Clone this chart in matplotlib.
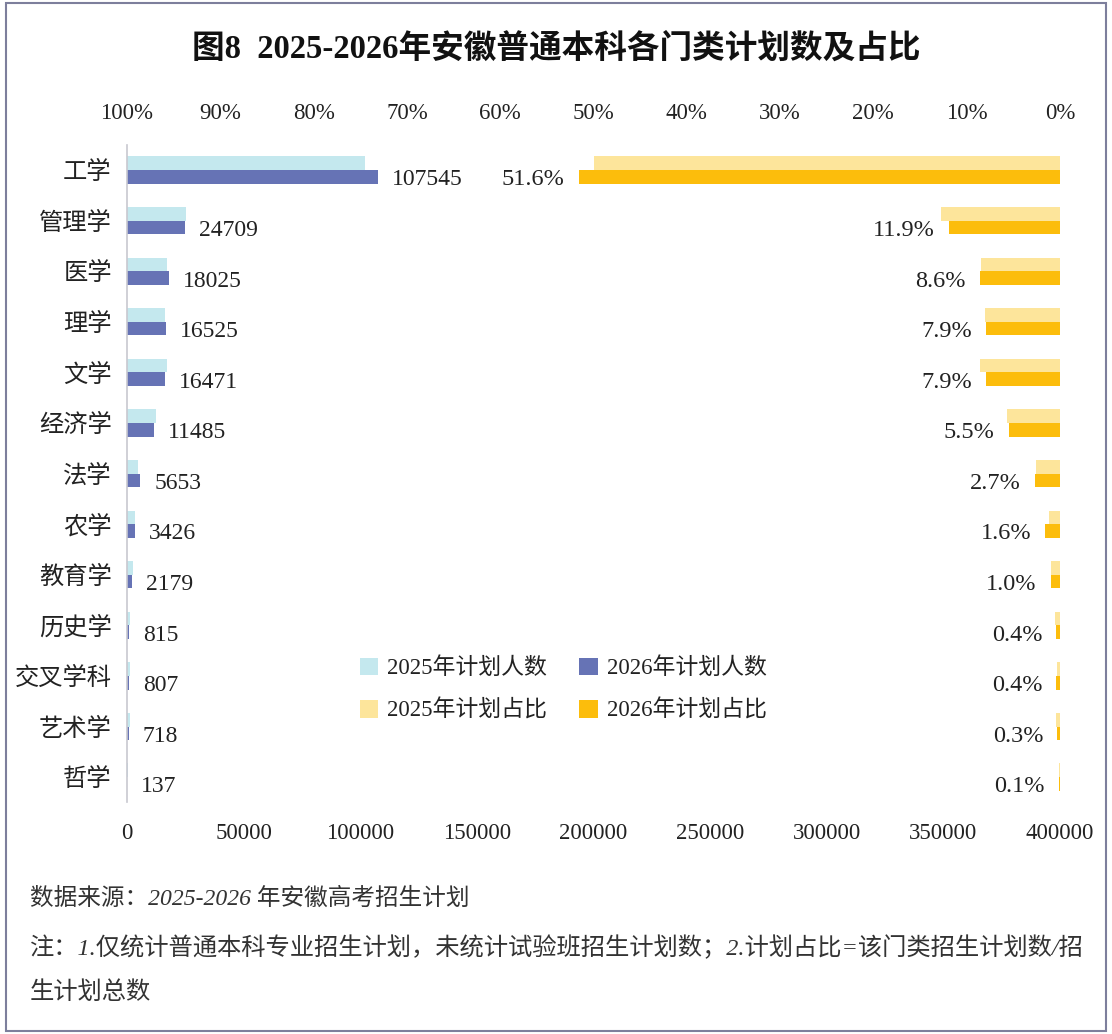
import matplotlib
matplotlib.use("Agg")
import matplotlib.pyplot as plt
from matplotlib.patches import Rectangle

plt.rcParams['font.family'] = ['Liberation Serif', 'Noto Sans CJK SC', 'DejaVu Sans']

categories = ['工学', '管理学', '医学', '理学', '文学', '经济学', '法学',
              '农学', '教育学', '历史学', '交叉学科', '艺术学', '哲学']
count_2025 = [102200, 25300, 17260, 16500, 17230, 12560, 4700,
              3400, 2600, 1500, 1200, 1500, 300]
count_2026 = [107545, 24709, 18025, 16525, 16471, 11485, 5653,
              3426, 2179, 815, 807, 718, 137]
share_2025 = [49.9, 12.7, 8.5, 8.0, 8.6, 5.7, 2.6, 1.2, 1.0, 0.5, 0.3, 0.4, 0.1]
share_2026 = [51.6, 11.9, 8.6, 7.9, 7.9, 5.5, 2.7, 1.6, 1.0, 0.4, 0.4, 0.3, 0.1]
count_ticks = [0, 50000, 100000, 150000, 200000, 250000, 300000, 350000, 400000]
share_ticks = [100, 90, 80, 70, 60, 50, 40, 30, 20, 10, 0]

c_light_blue = '#c4e8ee'
c_dark_blue = '#6673b5'
c_light_yel = '#fde59b'
c_dark_yel = '#fcbd0c'
txt = '#222222'

fig = plt.figure(figsize=(11.12, 10.34), dpi=100)
ax = fig.add_axes([0.1142, 0.224, 0.839, 0.636])
ax2 = ax.twiny()

y = list(range(len(categories)))
h = 0.27
y_top = [v - h / 2 for v in y]
y_bot = [v + h / 2 for v in y]

b1 = ax.barh(y_top, count_2025, height=h, color=c_light_blue, label='2025年计划人数')
b2 = ax.barh(y_bot, count_2026, height=h, color=c_dark_blue, label='2026年计划人数')
b3 = ax2.barh(y_top, share_2025, height=h, color=c_light_yel, label='2025年计划占比')
b4 = ax2.barh(y_bot, share_2026, height=h, color=c_dark_yel, label='2026年计划占比')

ax.set_xlim(0, 400000)
ax2.set_xlim(100, 0)
ax.set_ylim(len(categories) - 0.5, -0.5)

ax.set_xticks(count_ticks)
ax.set_xticklabels([str(t) for t in count_ticks])
ax2.set_xticks(share_ticks)
ax2.set_xticklabels([f'{t}%' for t in share_ticks])
ax.set_yticks(y)
ax.set_yticklabels(categories)

ax.tick_params(axis='x', length=0, pad=15, labelsize=16.5, colors=txt)
ax.tick_params(axis='y', length=0, pad=11, labelsize=17.5, colors=txt)
ax2.tick_params(axis='x', length=0, pad=15, labelsize=16.5, colors=txt)

for a in (ax, ax2):
    for s in a.spines.values():
        s.set_visible(False)
ax.spines['left'].set_visible(True)
ax.spines['left'].set_color('#c8c8d0')
ax.spines['left'].set_linewidth(1.2)

# value labels
for yi, v in zip(y_bot, count_2026):
    ax.annotate(str(v), xy=(v, yi), xytext=(14, -3), textcoords='offset pixels',
                ha='left', va='center', fontsize=17, color=txt)
for yi, v in zip(y_bot, share_2026):
    ax2.annotate(f'{v:.1f}%', xy=(v, yi), xytext=(-14, -3), textcoords='offset pixels',
                 ha='right', va='center', fontsize=17.5, color=txt)

fig.legend(handles=[b1, b3, b2, b4], ncol=2, loc='upper left',
           bbox_to_anchor=(0.305, 0.384), frameon=False, fontsize=16.5,
           handlelength=0.8, handleheight=0.8, handletextpad=0.4,
           columnspacing=1.4, labelspacing=0.9, labelcolor=txt)

fig.text(0.5, 0.953, '图8  2025-2026年安徽普通本科各门类计划数及占比',
         ha='center', va='center', fontsize=23.5, fontweight='bold', color='#111111')

fig.text(0.027, 0.131, '数据来源：2025-2026 年安徽高考招生计划',
         ha='left', va='center', fontsize=17, color='#333333', fontstyle='italic')
fig.text(0.027, 0.083, '注：1.仅统计普通本科专业招生计划，未统计试验班招生计划数；2.计划占比=该门类招生计划数/招',
         ha='left', va='center', fontsize=17.5, color='#333333', fontstyle='italic')
fig.text(0.027, 0.040, '生计划总数',
         ha='left', va='center', fontsize=17.5, color='#333333', fontstyle='italic')

fig.patches.append(Rectangle((0.005, 0.003), 0.99, 0.994, transform=fig.transFigure,
                             fill=False, edgecolor='#7d7f9c', linewidth=1.5))

fig.savefig('out.png', dpi=100)
